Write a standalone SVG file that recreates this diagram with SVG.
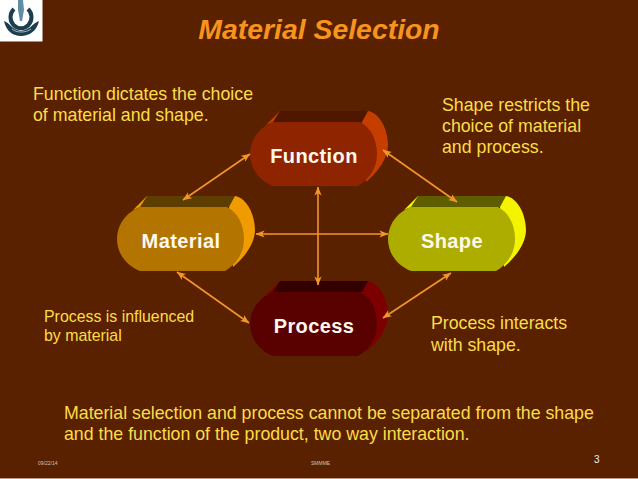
<svg xmlns="http://www.w3.org/2000/svg" width="638" height="479" viewBox="0 0 638 479">
<style>
text{font-family:"Liberation Sans",Arial,sans-serif}
.t{font-size:17.750px;fill:#fddc4a}
.s{font-size:15.900px}
.n{font-size:20px;font-weight:bold;fill:#fff8ee;text-anchor:middle;letter-spacing:.4px}
.a{stroke:#f4952a;stroke-width:1.6;fill:none;marker-start:url(#h);marker-end:url(#h)}
.f{font-size:5px;fill:#cfc4b8}
</style>
<defs>
<marker id="h" viewBox="0 0 10 10" refX="9.500" refY="5" markerWidth="9" markerHeight="9" markerUnits="userSpaceOnUse" orient="auto-start-reverse">
<path d="M0,1 L10,5 L0,9 L2.500,5Z" fill="#f4952a"/>
</marker>
<path id="front" d="M23,0H110C120,5 127,17 127,32C127,47 118,58 108,64H23C10,59 0,47 0,32C0,17 10,5 23,0Z"/>
<path id="top" d="M23,0L30,-11H118L112,0Z"/>
<path id="side" d="M16,3L30,-11H118C130,-9 138,8 138,23C138,36 128,50 116,60L112,0H23Z"/>
</defs>
<rect width="638" height="479" fill="#5a2100"/>
<rect y="478" width="638" height="1" fill="#c39a80"/>
<g id="logo">
<rect width="42.500" height="41.500" fill="#fff"/>
<path d="M14,9A10.500,11 0 1 0 28,9" fill="none" stroke="#1c3f50" stroke-width="4"/>
<path d="M4,21C10,23 12,30 21,31C30,30 33,23 39,21C37,31 29,36 21,36C13,36 6,31 4,21Z" fill="#1c3f50"/>
<path d="M12,29C16,33 26,33 31,29" fill="none" stroke="#9fb6c0" stroke-width="1"/>
<path d="M18,0H23L24,10L22,21H20L18,10Z" fill="#5e8ea6"/>
</g>
<text x="319" y="39" text-anchor="middle" font-size="28.400" font-weight="bold" font-style="italic" fill="#f7941d">Material Selection</text>
<g id="function" transform="translate(250,122)">
<use href="#side" fill="#c63d00"/><use href="#top" fill="#4f1700"/><use href="#front" fill="#8f2500"/>
<text class="n" x="64" y="41">Function</text>
</g>
<g id="material" transform="translate(117,207)">
<use href="#side" fill="#f09c00"/><use href="#top" fill="#5e3e00"/><use href="#front" fill="#b37400"/>
<text class="n" x="64" y="41">Material</text>
</g>
<g id="shape" transform="translate(388,207)">
<use href="#side" fill="#f4f400"/><use href="#top" fill="#5e5e00"/><use href="#front" fill="#adad00"/>
<text class="n" x="64" y="41">Shape</text>
</g>
<g id="process" transform="translate(250,292)">
<use href="#side" fill="#7c0000"/><use href="#top" fill="#330000"/><use href="#front" fill="#590000"/>
<text class="n" x="64" y="41">Process</text>
</g>
<g id="connectors">
<line class="a" x1="183" y1="200" x2="250" y2="154"/>
<line class="a" x1="383" y1="150" x2="457" y2="202"/>
<line class="a" x1="256" y1="234" x2="388" y2="234"/>
<line class="a" x1="318" y1="187" x2="318" y2="285"/>
<line class="a" x1="177" y1="272" x2="249" y2="323"/>
<line class="a" x1="451" y1="273" x2="383" y2="318"/>
</g>
<text class="t" x="33" y="100">Function dictates the choice</text>
<text class="t" x="33" y="121">of material and shape.</text>
<text class="t" x="442" y="111">Shape restricts the</text>
<text class="t" x="442" y="132">choice of material</text>
<text class="t" x="442" y="153">and process.</text>
<text class="t s" x="44" y="322">Process is influenced</text>
<text class="t s" x="44" y="341">by material</text>
<text class="t" x="431" y="329">Process interacts</text>
<text class="t" x="431" y="351">with shape.</text>
<text class="t" x="64" y="419">Material selection and process cannot be separated from the shape</text>
<text class="t" x="64" y="440">and the function of the product, two way interaction.</text>
<text class="f" x="38" y="465">09/22/14</text>
<text class="f" x="311" y="465">SMMME</text>
<text x="594" y="463" font-size="10" fill="#eee">3</text>
</svg>
